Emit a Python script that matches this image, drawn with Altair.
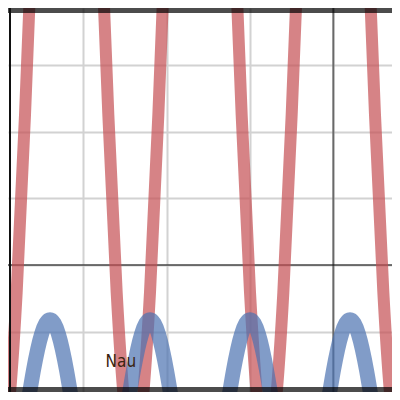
import altair as alt
import pandas as pd

# sample positions along x (data units: one grid step = 1)
x_vals = [-4.2, -4.1, -4.0, -3.9, -3.8, -3.7, -3.6, -3.5, -3.4, -3.3, -3.2, -3.1,
          -3.0, -2.9, -2.8, -2.7, -2.6, -2.5, -2.4, -2.3, -2.2, -2.1, -2.0, -1.9,
          -1.8, -1.7, -1.6, -1.5, -1.4, -1.3, -1.2, -1.1, -1.0, -0.9, -0.8, -0.7,
          -0.6, -0.5, -0.4, -0.3, -0.2, -0.1, 0.0, 0.1, 0.2, 0.3, 0.4, 0.5,
          0.6, 0.7, 0.8, 0.9, 1.0]

# red series (large oscillation, mostly above the view)
red_vals = [-0.41, -2.19, -2.81, -2.19, -0.41, 2.25, 5.38, 8.52, 11.18, 12.96,
            13.58, 12.96, 11.18, 8.52, 5.38, 2.25, -0.41, -2.19, -2.81, -2.19,
            -0.41, 2.25, 5.38, 8.52, 11.18, 12.96, 13.58, 12.96, 11.18, 8.52,
            5.38, 2.25, -0.41, -2.19, -2.81, -2.19, -0.41, 2.25, 5.38, 8.52,
            11.18, 12.96, 13.58, 12.96, 11.18, 8.52, 5.38, 2.25, -0.41, -2.19,
            -2.81, -2.19, -0.41]

# blue series (arches peeking in at the bottom)
blue_vals = [-3.11, -3.67, -3.88, -3.67, -3.11, -2.35, -1.59, -1.03, -0.82, -1.03,
             -1.59, -2.35, -3.11, -3.67, -3.88, -3.67, -3.11, -2.35, -1.59, -1.03,
             -0.82, -1.03, -1.59, -2.35, -3.11, -3.67, -3.88, -3.67, -3.11, -2.35,
             -1.59, -1.03, -0.82, -1.03, -1.59, -2.35, -3.11, -3.67, -3.88, -3.67,
             -3.11, -2.35, -1.59, -1.03, -0.82, -1.03, -1.59, -2.35, -3.11, -3.67,
             -3.88, -3.67, -3.11]

grid_x = [-3, -2, -1, 0]
grid_y = [-2, -1, 0, 1, 2, 3]
zero_x = [0]
zero_y = [0]
# dark frame bands (bottom and top edges) and left edge line
band_y = [-1.83, 3.78]
band_y2 = [-1.95, 3.95]
band_left = [-4.2, -4.2]
band_right = [1.0, 1.0]
edge_x = [-3.88]
label_text = ["Nau"]
label_x = [-2.55]
label_y = [-1.45]

X_DOMAIN = [-3.904, 0.704]
Y_DOMAIN = [-1.905, 3.855]

xs = alt.Scale(domain=X_DOMAIN, nice=False, zero=False)
ys = alt.Scale(domain=Y_DOMAIN, nice=False, zero=False)

curves = pd.DataFrame({"x": x_vals, "red": red_vals, "blue": blue_vals})

ax_x = alt.Axis(values=grid_x, labels=False, ticks=False, domain=False,
                title=None, grid=True, gridColor="#d2d2d2", gridWidth=2)
ax_y = alt.Axis(values=grid_y, labels=False, ticks=False, domain=False,
                title=None, grid=True, gridColor="#d2d2d2", gridWidth=2)

zx = alt.Chart(pd.DataFrame({"x": zero_x})).mark_rule(
    color="black", opacity=0.5, strokeWidth=2
).encode(x=alt.X("x:Q", scale=xs, axis=ax_x))

zy = alt.Chart(pd.DataFrame({"y": zero_y})).mark_rule(
    color="black", opacity=0.5, strokeWidth=2
).encode(y=alt.Y("y:Q", scale=ys, axis=ax_y))

red = alt.Chart(curves).mark_line(
    color="#c44e52", opacity=0.7, strokeWidth=12, interpolate="natural", clip=True
).encode(
    x=alt.X("x:Q", scale=xs, axis=ax_x),
    y=alt.Y("red:Q", scale=ys, axis=ax_y),
)

blue = alt.Chart(curves).mark_line(
    color="#4c72b0", opacity=0.7, strokeWidth=15, interpolate="natural", clip=True
).encode(
    x=alt.X("x:Q", scale=xs, axis=ax_x),
    y=alt.Y("blue:Q", scale=ys, axis=ax_y),
)

band = alt.Chart(pd.DataFrame({"x": band_left, "x2": band_right,
                               "y": band_y, "y2": band_y2})).mark_rect(
    color="black", opacity=0.7, clip=True
).encode(
    x=alt.X("x:Q", scale=xs, axis=ax_x), x2="x2:Q",
    y=alt.Y("y:Q", scale=ys, axis=ax_y), y2="y2:Q",
)

edge = alt.Chart(pd.DataFrame({"x": edge_x})).mark_rule(
    color="#111111", strokeWidth=2
).encode(x=alt.X("x:Q", scale=xs, axis=ax_x))

label = alt.Chart(pd.DataFrame({"x": label_x, "y": label_y, "t": label_text})).mark_text(
    font="'DejaVu Sans Condensed', 'DejaVu Sans', sans-serif", fontSize=17,
    color="#3a2410", align="center", baseline="middle"
).encode(
    x=alt.X("x:Q", scale=xs, axis=ax_x),
    y=alt.Y("y:Q", scale=ys, axis=ax_y),
    text="t:N",
)

chart = alt.layer(zx, zy, red, blue, band, edge, label).properties(
    width=384, height=384, padding=0,
    autosize=alt.AutoSizeParams(type="none"),
).configure_view(strokeWidth=0)

chart.save("out.html", embed_options={"renderer": "svg", "actions": False})
